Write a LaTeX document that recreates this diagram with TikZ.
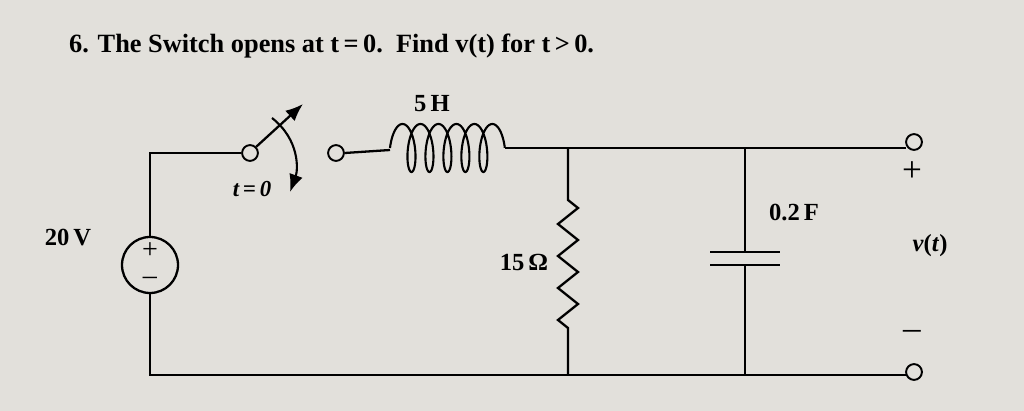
\documentclass[tikz,border=0pt]{standalone}
\usepackage{fontspec}
\setmainfont{Liberation Serif}
\usetikzlibrary{arrows.meta}
\begin{document}
\begin{tikzpicture}[x=0.02cm,y=-0.02cm,line width=1.3pt,
  term/.style={circle,draw,line width=1.1pt,minimum size=9pt,inner sep=0pt},
  lbl/.style={font=\bfseries\fontsize{14}{16}\selectfont,inner sep=0pt}]
\useasboundingbox[fill={rgb,255:red,226;green,224;blue,219}] (0,0) rectangle (1024,411);
\node[lbl,anchor=west,font=\bfseries\fontsize{15}{18}\selectfont] (title) at (68,46) {6. The Switch opens at t\,=\,0.\ \ Find v(t) for t\,>\,0.};
% nodes
\node[term] (s1) at (250,153) {};
\node[term] (s2) at (336,153) {};
\node[term] (tp) at (914,142) {};
\node[term] (tm) at (914,372) {};
\node[circle,draw,line width=1.3pt,inner sep=0pt,minimum size=1.12cm] (src) at (150,265) {};
\node[font=\fontsize{16}{16}\selectfont,inner sep=0pt] (plus) at (150,251) {+};
\node[font=\fontsize{16}{16}\selectfont,inner sep=0pt] (minus) at (150,281) {--};
\coordinate (tl) at (150,153);
\coordinate (bl) at (150,375);
\coordinate (l1) at (390,150);
\coordinate (l2) at (505,148);
\coordinate (rt) at (568,148);
\coordinate (rb) at (568,375);
\coordinate (ct) at (745,148);
\coordinate (cb) at (745,375);
\coordinate (tw) at (906,148);
\coordinate (bw) at (906,375);
% wires
\draw (src.north) -- (tl) -- (s1.west);
\draw (src.south) -- (bl) -- (bw);
\draw (s2.east) -- (l1);
\draw[line width=1.2pt] plot[domain=-1.5708:32.987,samples=500,smooth] ({398+2.86*(\x+1.5708)+8*sin(\x r)},{148-24*cos(\x r)});
\draw (l2) -- (tw);
% switch
\draw[-{Latex[length=10pt,width=8pt]}] (s1.north east) -- (303,104);
\draw[-{Latex[length=10pt,width=8pt]},line width=1.2pt] (272,118) .. controls (300,140) and (298,170) .. (290,192);
\node[lbl,font=\bfseries\itshape\fontsize{13}{14}\selectfont] (t0) at (252,189) {t\,=\,0};
\node[lbl] (Lv) at (432,104) {5\,H};
% resistor
\draw (rt) -- (568,200) -- (578,208) -- (558,224) -- (578,240) -- (558,256) -- (578,272) -- (558,288) -- (578,304) -- (558,320) -- (568,328) -- (rb);
\node[lbl] (Rv) at (524,262) {15\,Ω};
% capacitor
\draw (ct) -- (745,252); \draw (745,265) -- (cb);
\draw (710,252) -- (780,252); \draw (710,265) -- (780,265);
\node[lbl] (Cv) at (794,212) {0.2\,F};
\node[font=\fontsize{20}{20}\selectfont] (pp) at (912,172) {+};
\node[font=\fontsize{20}{20}\selectfont] (mm) at (912,335) {--};
\node[lbl] (vt) at (930,246) {\textit{v}(\textit{t})};
\node[lbl] (V) at (68,238) {20\,V};
\end{tikzpicture}
\end{document}
